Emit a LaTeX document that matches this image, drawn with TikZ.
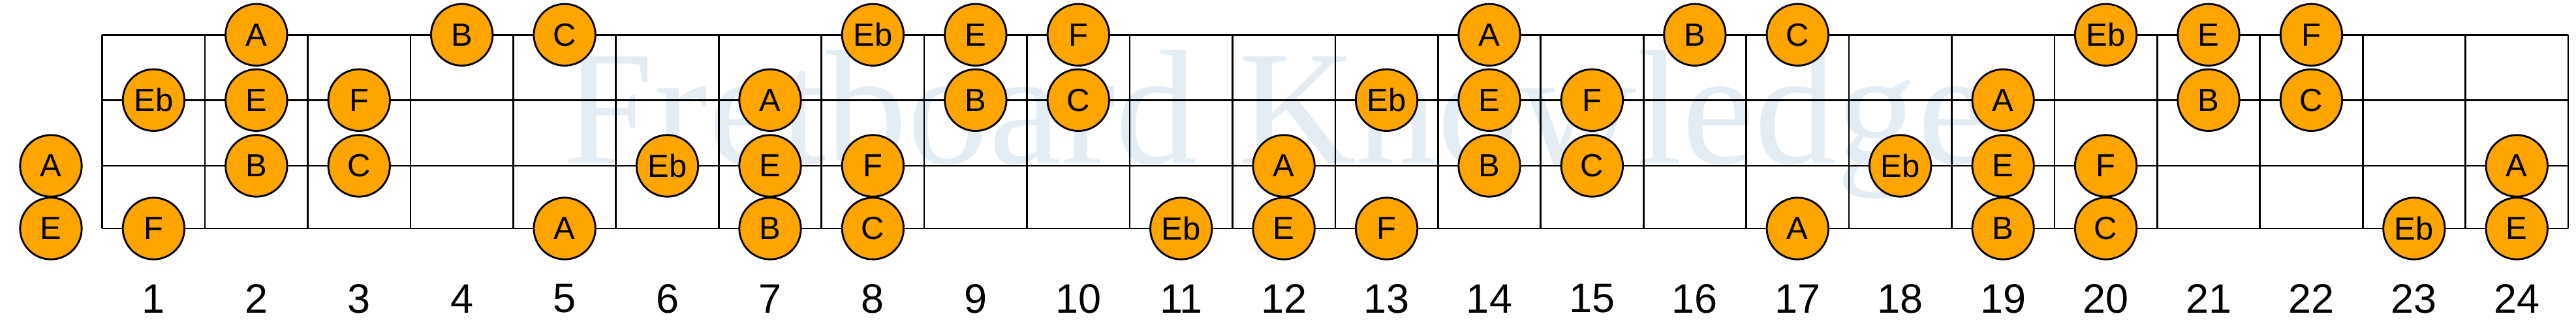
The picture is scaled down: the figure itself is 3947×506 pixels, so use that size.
\documentclass[tikz,border=0pt]{standalone}
\usepackage{fontspec}
\setmainfont{Liberation Sans}
\newfontfamily\markfont{Liberation Serif}
\usetikzlibrary{calc}
\definecolor{noteorange}{RGB}{255,165,0}
\definecolor{markblue}{RGB}{228,237,244}

\tikzset{
    note/.style={circle, draw=black, line width=0.72pt, fill=noteorange,
        minimum size=23.6pt, inner sep=0pt, font=\fontsize{12.25}{14}\selectfont},
    fretnum/.style={inner sep=0pt, font=\fontsize{15.75}{18}\selectfont},
    wire/.style={line width=0.68pt}
}

\begin{document}
\begin{tikzpicture}[x=0.25pt,y=-0.25pt]
    \useasboundingbox (0,0) rectangle (3947,506);

    \node[anchor=base west, inner sep=0pt, text=markblue,
        font=\markfont\fontsize{62.5}{70}\selectfont] (mark) at (862,250) {Fretboard Knowledge};

    % strings
    \foreach \s/\y in {1/53.3,2/153.3,3/254,4/350} {
    \coordinate (s\s-0) at (156.7,\y);
    \coordinate (s\s-24) at (3935,\y);
    \draw[wire] (s\s-0)--(s\s-24);}

    % frets
    \foreach \f in {0,...,24} {
    \draw[wire] ($(s1-0)!\f/24!(s1-24)$)coordinate (f\f-top)
            --($(s4-0)!\f/24!(s4-24)$)coordinate (f\f-bot);}

    \foreach \f in {1,...,24} {
    \node[fretnum] (num\f) at ($(f\f-bot)+(-78.7,107.5)$) {\f};}

    % open strings
    \foreach \s/\n in {3/A,4/E} {
    \node[note] (n0-\s) at ($(s\s-0)+(-78.7,0)$) {\n};}

    % same twelve frets twice
    \foreach \k in {0,12} {
    \foreach \f/\s/\n in {1/2/Eb,1/4/F,2/1/A,2/2/E,2/3/B,3/2/F,3/3/C,4/1/B,
            5/1/C,5/4/A,6/3/Eb,7/2/A,7/3/E,7/4/B,8/1/Eb,8/3/F,8/4/C,
            9/1/E,9/2/B,10/1/F,10/2/C,11/4/Eb,12/3/A,12/4/E} {
    \pgfmathtruncatemacro\ff{\f+\k}
    \node[note] (n\ff-\s) at ($(s\s-0)!{(\ff-0.5)/24}!(s\s-24)$) {\n};}}

\end{tikzpicture}
\end{document}
